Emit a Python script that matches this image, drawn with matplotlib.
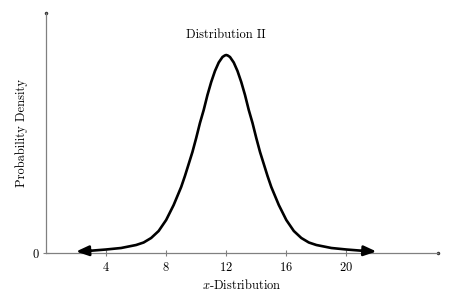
import matplotlib.pyplot as plt

# Значения кривой
x_vals = [2, 3, 4, 5, 6, 6.5, 7, 7.5, 8, 8.5, 9, 9.25, 9.5, 9.75, 10,
          10.25, 10.5, 10.75, 11, 11.25, 11.5, 11.75, 11.9, 12, 12.1,
          12.25, 12.5, 12.75, 13, 13.25, 13.5, 13.75, 14, 14.25, 14.5,
          14.75, 15, 15.5, 16, 16.5, 17, 17.5, 18, 19, 20, 21, 22]
density = [0.0015, 0.0023, 0.0035, 0.005, 0.008, 0.0105, 0.015, 0.022,
           0.033, 0.048, 0.066, 0.077, 0.089, 0.101, 0.115, 0.130, 0.143,
           0.158, 0.171, 0.182, 0.1905, 0.196, 0.1975, 0.198, 0.1975,
           0.196, 0.1905, 0.182, 0.171, 0.158, 0.143, 0.130, 0.115, 0.101,
           0.089, 0.077, 0.066, 0.048, 0.033, 0.022, 0.015, 0.0105, 0.008,
           0.005, 0.0035, 0.0023, 0.0015]
x_ticks = [4, 8, 12, 16, 20]
title = 'Distribution II'

plt.rcParams['font.family'] = 'cmr10'
plt.rcParams['mathtext.fontset'] = 'cm'
plt.rcParams['axes.formatter.use_mathtext'] = True

fig = plt.figure(figsize=(4.74, 3.0), dpi=100)
ax = fig.add_axes([46 / 474, 47 / 300, 392 / 474, 240 / 300])

# кривая без крайних точек, концы рисуем стрелками
ax.plot(x_vals[1:-1], density[1:-1], color='black', linewidth=1.9,
        solid_capstyle='round', solid_joinstyle='round')
arrow = dict(arrowstyle='-|>,head_length=0.75,head_width=0.3',
             color='black', linewidth=1.9, shrinkA=0, shrinkB=0)
ax.annotate('', xy=(x_vals[0], density[0]), xytext=(x_vals[1], density[1]),
            arrowprops=arrow)
ax.annotate('', xy=(x_vals[-1], density[-1]),
            xytext=(x_vals[-2], density[-2]), arrowprops=arrow)

ax.set_xlim(0, 26.1)
ax.set_ylim(0, 0.24)

axis_color = '#808080'
for side in ['top', 'right']:
    ax.spines[side].set_visible(False)
for side in ['left', 'bottom']:
    ax.spines[side].set_color(axis_color)
    ax.spines[side].set_linewidth(0.9)
ax.plot([0], [0.24], 'o', color='#333333', markersize=1.5, clip_on=False)
ax.plot([26.1], [0], 'o', color='#333333', markersize=1.5, clip_on=False)

ax.set_xticks(x_ticks)
ax.set_yticks([0])
ax.set_yticklabels(['0'])
ax.tick_params(direction='inout', length=5, width=0.8, color=axis_color,
               labelsize=9, pad=3)

ax.set_xlabel('$x$-Distribution', fontsize=9, labelpad=3)
ax.set_ylabel('Probability Density', fontsize=9, labelpad=3)
ax.text(12, 0.218, title, ha='center', va='center', fontsize=9)

fig.savefig('out.png', dpi=100)
